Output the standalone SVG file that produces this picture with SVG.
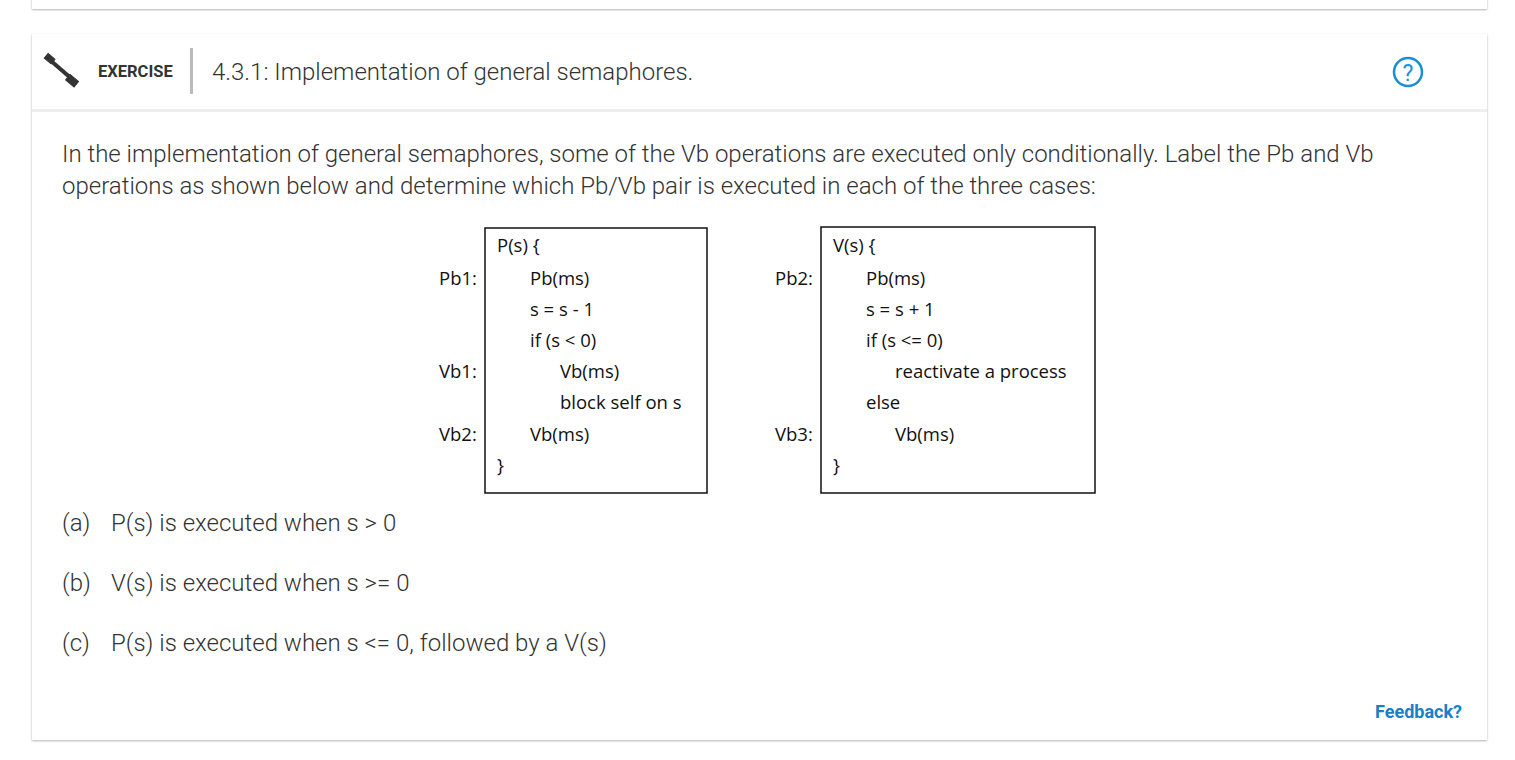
<svg xmlns="http://www.w3.org/2000/svg" width="1515" height="760" viewBox="0 0 1515 760">
<defs>
<filter id="sh" x="-2%" y="-2%" width="104%" height="106%"><feDropShadow dx="0" dy="1" stdDeviation="1.2" flood-color="#000" flood-opacity="0.3"/></filter>
<style>
.b{font-family:Roboto,"Liberation Sans",sans-serif;font-weight:300;font-size:24px;fill:#333}
.c{font-family:"Open Sans","Liberation Sans",sans-serif;font-size:18.5px;fill:#111}
.box{fill:#fff;stroke:#111;stroke-width:1.5}
</style>
</defs>
<rect width="1515" height="760" fill="#fff"/>
<rect x="32" y="-20" width="1455" height="29" fill="#fff" filter="url(#sh)"/>
<g id="card">
<rect x="32" y="34" width="1455" height="706" fill="#fff" filter="url(#sh)"/>
<rect x="32" y="109" width="1455" height="3" fill="#eee"/>
</g>
<g id="header">
<g fill="#333" stroke="#333">
<line x1="50" y1="60" x2="73" y2="80" stroke-width="4"/>
<rect x="45" y="56" width="9" height="6" transform="rotate(40 50 59)"/>
<rect x="67" y="77" width="11" height="7" transform="rotate(40 72 80)"/>
</g>
<text x="98" y="77" font-family="Roboto,'Liberation Sans',sans-serif" font-weight="700" font-size="16.5" fill="#333">EXERCISE</text>
<rect x="190" y="48" width="3" height="46" fill="#bbb"/>
<text x="212" y="80" class="b">4.3.1: Implementation of general semaphores.</text>
<circle cx="1408" cy="72" r="14" fill="none" stroke="#1a8fd8" stroke-width="2.5"/>
<text x="1408" y="81" text-anchor="middle" font-family="Roboto,'Liberation Sans',sans-serif" font-weight="400" font-size="23" fill="#1a8fd8">?</text>
</g>
<g id="intro">
<text x="62" y="162" class="b">In the implementation of general semaphores, some of the Vb operations are executed only conditionally. Label the Pb and Vb</text>
<text x="62" y="194" class="b">operations as shown below and determine which Pb/Vb pair is executed in each of the three cases:</text>
</g>
<g id="P">
<rect x="485" y="228" width="222" height="265" class="box"/>
<text class="c" x="497" y="252">P(s) {</text>
<text class="c" x="530" y="285">Pb(ms)</text>
<text class="c" x="530" y="316">s = s - 1</text>
<text class="c" x="530" y="347">if (s &lt; 0)</text>
<text class="c" x="560" y="378">Vb(ms)</text>
<text class="c" x="560" y="409">block self on s</text>
<text class="c" x="530" y="441">Vb(ms)</text>
<text class="c" x="497" y="472">}</text>
<text class="c" x="439" y="285">Pb1:</text>
<text class="c" x="439" y="378">Vb1:</text>
<text class="c" x="439" y="441">Vb2:</text>
</g>
<g id="V">
<rect x="821" y="227" width="274" height="266" class="box"/>
<text class="c" x="833" y="252">V(s) {</text>
<text class="c" x="866" y="285">Pb(ms)</text>
<text class="c" x="866" y="316">s = s + 1</text>
<text class="c" x="866" y="347">if (s &lt;= 0)</text>
<text class="c" x="895" y="378">reactivate a process</text>
<text class="c" x="866" y="409">else</text>
<text class="c" x="895" y="441">Vb(ms)</text>
<text class="c" x="833" y="472">}</text>
<text class="c" x="775" y="285">Pb2:</text>
<text class="c" x="775" y="441">Vb3:</text>
</g>
<g id="cases">
<text x="62" y="531" class="b">(a)</text><text x="111" y="531" class="b">P(s) is executed when s &gt; 0</text>
<text x="62" y="591" class="b">(b)</text><text x="111" y="591" class="b">V(s) is executed when s &gt;= 0</text>
<text x="62" y="651" class="b">(c)</text><text x="111" y="651" class="b">P(s) is executed when s &lt;= 0, followed by a V(s)</text>
</g>
<text x="1462" y="718" text-anchor="end" font-family="Roboto,'Liberation Sans',sans-serif" font-weight="700" font-size="18" fill="#1a7fc8">Feedback?</text>
</svg>
